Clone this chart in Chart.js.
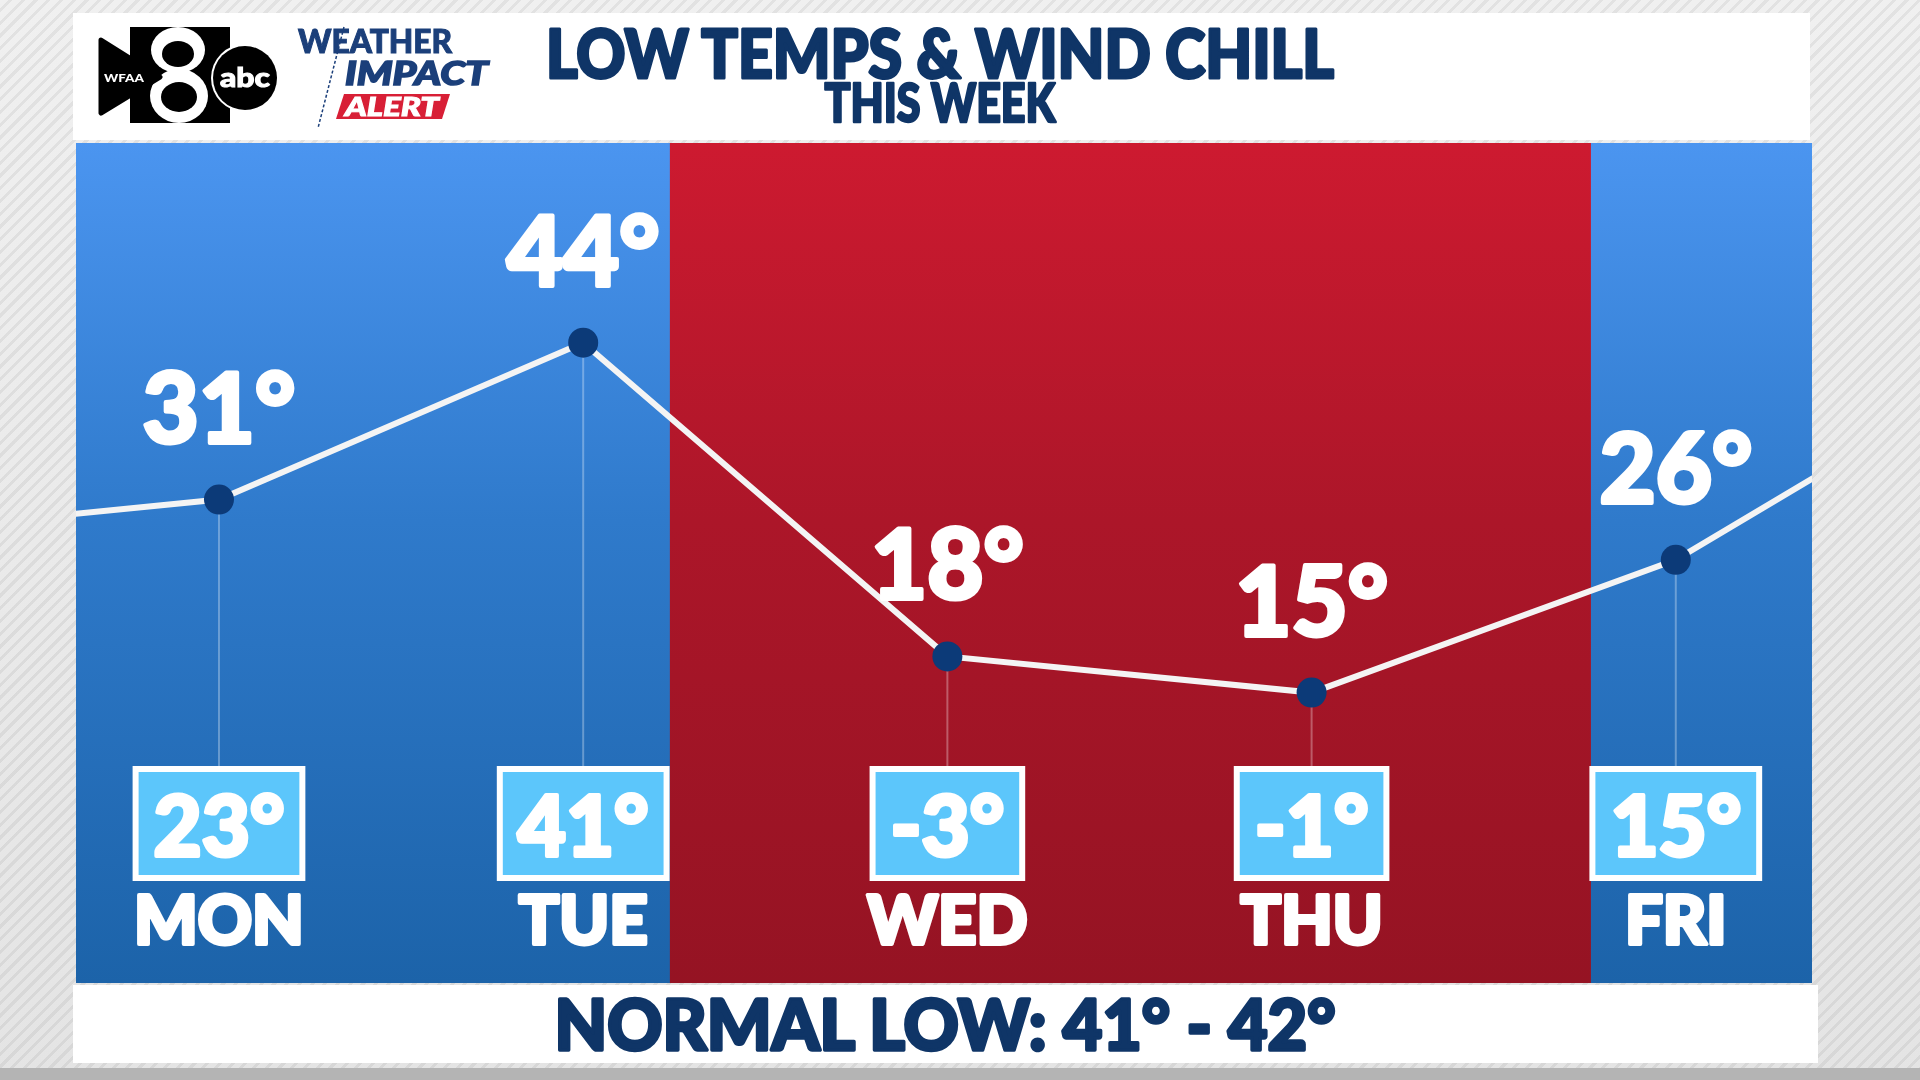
<!DOCTYPE html>
<html>
<head>
<meta charset="utf-8">
<script src="https://cdn.jsdelivr.net/npm/chart.js@4.4.0/dist/chart.umd.min.js"></script>
<style>
html,body{margin:0;padding:0;width:1920px;height:1080px;overflow:hidden;}
body{background:#e8e8e8;font-family:Lato,"Open Sans",sans-serif;}
#bg{position:absolute;left:0;top:0;width:1920px;height:1080px;
  background:repeating-linear-gradient(135deg,rgba(0,0,0,0) 0px,rgba(0,0,0,0) 6px,rgba(0,0,0,0.06) 6px,rgba(0,0,0,0.06) 9px),linear-gradient(#f0f0f0,#e4e4e4);}
#floor{position:absolute;left:0;top:1068px;width:1920px;height:12px;background:#b4b4b4;}
.box{position:absolute;background:#fff;}
#head{left:73px;top:13px;width:1737px;height:127px;}
#foot{left:73px;top:985px;width:1745px;height:78px;}
#c{position:absolute;left:0;top:0;}
#ov{position:absolute;left:0;top:0;}
</style>
</head>
<body>
<div id="bg"></div>
<div id="floor"></div>
<div class="box" id="head"></div>
<div class="box" id="foot"></div>
<canvas id="c" width="1920" height="1080"></canvas>
<svg id="ov" width="1920" height="1080" xmlns="http://www.w3.org/2000/svg">
  <!-- WFAA 8 abc logo -->
  <rect x="130" y="27" width="100" height="96" fill="#000"/>
  <ellipse cx="178" cy="50" rx="27" ry="23" fill="#fff"/>
  <ellipse cx="179" cy="96" rx="29" ry="27" fill="#fff"/>
  <ellipse cx="178" cy="54" rx="16" ry="13" fill="#000"/>
  <ellipse cx="179" cy="97" rx="18" ry="15" fill="#000"/>
  <rect x="130" y="27" width="100" height="96" fill="none" stroke="#fff" stroke-width="0"/>
  <polygon points="101,40 160,77 101,113" fill="#000" stroke="#000" stroke-width="5" stroke-linejoin="round"/>
  <text x="124" y="82" font-family="Lato" font-weight="900" font-size="12" fill="#fff" text-anchor="middle" textLength="40" lengthAdjust="spacingAndGlyphs">WFAA</text>
  <circle cx="245" cy="78" r="34" fill="#fff"/>
  <circle cx="245" cy="78" r="32" fill="#000"/>
  <text x="245" y="87" font-family="Lato" font-weight="900" font-size="27" fill="#fff" stroke="#fff" stroke-width="1" text-anchor="middle" textLength="50" lengthAdjust="spacingAndGlyphs">abc</text>
  <!-- Weather Impact Alert -->
  <line x1="344" y1="27" x2="318" y2="128" stroke="#1b3f7a" stroke-width="1.5" stroke-dasharray="3,2"/>
  <text x="298" y="53" font-family="Lato" font-weight="900" font-size="32" fill="#1b3f7a" stroke="#1b3f7a" stroke-width="1" textLength="154" lengthAdjust="spacingAndGlyphs">WEATHER</text>
  <text x="345" y="85" font-family="Lato" font-weight="900" font-style="italic" font-size="32" fill="#1b3f7a" stroke="#1b3f7a" stroke-width="1.5" textLength="143" lengthAdjust="spacingAndGlyphs">IMPACT</text>
  <polygon points="344,94 450,94 442,119 336,119" fill="#d81f36"/>
  <text x="345" y="116" font-family="Lato" font-weight="900" font-style="italic" font-size="27" fill="#fff" stroke="#fff" stroke-width="1" textLength="94" lengthAdjust="spacingAndGlyphs">ALERT</text>
  <!-- Titles -->
  <text x="940" y="78" font-family="Lato" font-weight="900" font-size="66" fill="#0f3567" stroke="#0f3567" stroke-width="3" stroke-linejoin="round" text-anchor="middle" textLength="788" lengthAdjust="spacingAndGlyphs">LOW TEMPS &amp; WIND CHILL</text>
  <text x="940" y="122" font-family="Lato" font-weight="900" font-size="53" fill="#0f3567" stroke="#0f3567" stroke-width="2.5" stroke-linejoin="round" text-anchor="middle" textLength="231" lengthAdjust="spacingAndGlyphs">THIS WEEK</text>
  <text x="945" y="1050" font-family="Lato" font-weight="900" font-size="71" fill="#0f3567" stroke="#0f3567" stroke-width="3.5" stroke-linejoin="round" text-anchor="middle" textLength="781" lengthAdjust="spacingAndGlyphs">NORMAL LOW: 41° - 42°</text>
</svg>
<script>
// ---- data ----
const days = ['MON', 'TUE', 'WED', 'THU', 'FRI'];
const lowTemps = [31, 44, 18, 15, 26];
const windChill = [23, 41, -3, -1, 15];
const prevDayLow = 28;   // day before MON (line enters from the left edge)
const nextDayLow = 44;   // day after FRI (line leaves at the right edge)
const alertDays = ['WED', 'THU'];

const lineData = [{x: -1, y: prevDayLow}]
  .concat(days.map((d, i) => ({x: i, y: lowTemps[i]})))
  .concat([{x: days.length, y: nextDayLow}]);
const radii = lineData.map(p => (p.x >= 0 && p.x < days.length) ? 15 : 0);

const FONT = 'Lato, "Open Sans", sans-serif';

function heavyText(ctx, txt, x, y, w) {
  ctx.lineWidth = w;
  ctx.lineJoin = 'round';
  ctx.strokeStyle = ctx.fillStyle;
  ctx.strokeText(txt, x, y);
  ctx.fillText(txt, x, y);
}

const panelPlugin = {
  id: 'panels',
  beforeDatasetsDraw(chart) {
    const {ctx, chartArea: a, scales: {x, y}} = chart;
    ctx.save();
    const blue = ctx.createLinearGradient(0, a.top, 0, a.bottom);
    blue.addColorStop(0, '#4b95f0');
    blue.addColorStop(0.45, '#2f7acb');
    blue.addColorStop(1, '#1c63a9');
    ctx.fillStyle = blue;
    ctx.fillRect(a.left, a.top, a.width, a.height);
    const i0 = days.indexOf(alertDays[0]);
    const i1 = days.indexOf(alertDays[alertDays.length - 1]);
    const l = x.getPixelForValue(i0 - 0.762), r = x.getPixelForValue(i1 + 0.767);
    const red = ctx.createLinearGradient(0, a.top, 0, a.bottom);
    red.addColorStop(0, '#cd1a30');
    red.addColorStop(0.45, '#ac1629');
    red.addColorStop(1, '#951323');
    ctx.fillStyle = red;
    ctx.fillRect(l, a.top, r - l, a.height);
    // drop lines
    const boxTop = a.bottom - 217;
    ctx.strokeStyle = 'rgba(255,255,255,0.3)';
    ctx.lineWidth = 2;
    days.forEach((d, i) => {
      const px = x.getPixelForValue(i), py = y.getPixelForValue(lowTemps[i]);
      ctx.beginPath();
      ctx.moveTo(px, py);
      ctx.lineTo(px, boxTop);
      ctx.stroke();
    });
    ctx.restore();
  },
  afterDatasetsDraw(chart) {
    const {ctx, chartArea: a, scales: {x, y}} = chart;
    ctx.save();
    ctx.textAlign = 'center';
    ctx.textBaseline = 'alphabetic';
    days.forEach((d, i) => {
      const px = x.getPixelForValue(i), py = y.getPixelForValue(lowTemps[i]);
      // low temp label
      ctx.font = '900 97px ' + FONT;
      ctx.fillStyle = '#fff';
      heavyText(ctx, lowTemps[i] + '°', px, py - 57, 4);
      // wind chill box
      const t = windChill[i] + '°';
      ctx.font = '900 83px ' + FONT;
      const w = ctx.measureText(t).width + 42;
      const bt = a.bottom - 217, bh = 115;
      ctx.fillStyle = '#fff';
      ctx.fillRect(px - w / 2, bt, w, bh);
      ctx.fillStyle = '#5cc6fb';
      ctx.fillRect(px - w / 2 + 6, bt + 6, w - 12, bh - 12);
      ctx.fillStyle = '#fff';
      heavyText(ctx, t, px, bt + 90, 4);
      // day label
      ctx.font = '900 67px ' + FONT;
      heavyText(ctx, d, px, a.bottom - 39, 4);
    });
    ctx.restore();
  }
};

new Chart(document.getElementById('c'), {
  type: 'line',
  data: {
    datasets: [{
      data: lineData,
      borderColor: '#f4f4f4',
      borderWidth: 6,
      tension: 0,
      clip: 0,
      pointRadius: radii,
      pointHoverRadius: radii,
      pointBackgroundColor: '#0c3a78',
      pointBorderWidth: 0
    }]
  },
  options: {
    responsive: false,
    animation: false,
    devicePixelRatio: 1,
    events: [],
    layout: {padding: {left: 76, top: 143, right: 108, bottom: 97}},
    scales: {
      x: {type: 'linear', min: -0.3926, max: 4.374, display: false},
      y: {min: -9.07, max: 60.55, display: false}
    },
    plugins: {legend: {display: false}, tooltip: {enabled: false}}
  },
  plugins: [panelPlugin]
});
</script>
</body>
</html>
